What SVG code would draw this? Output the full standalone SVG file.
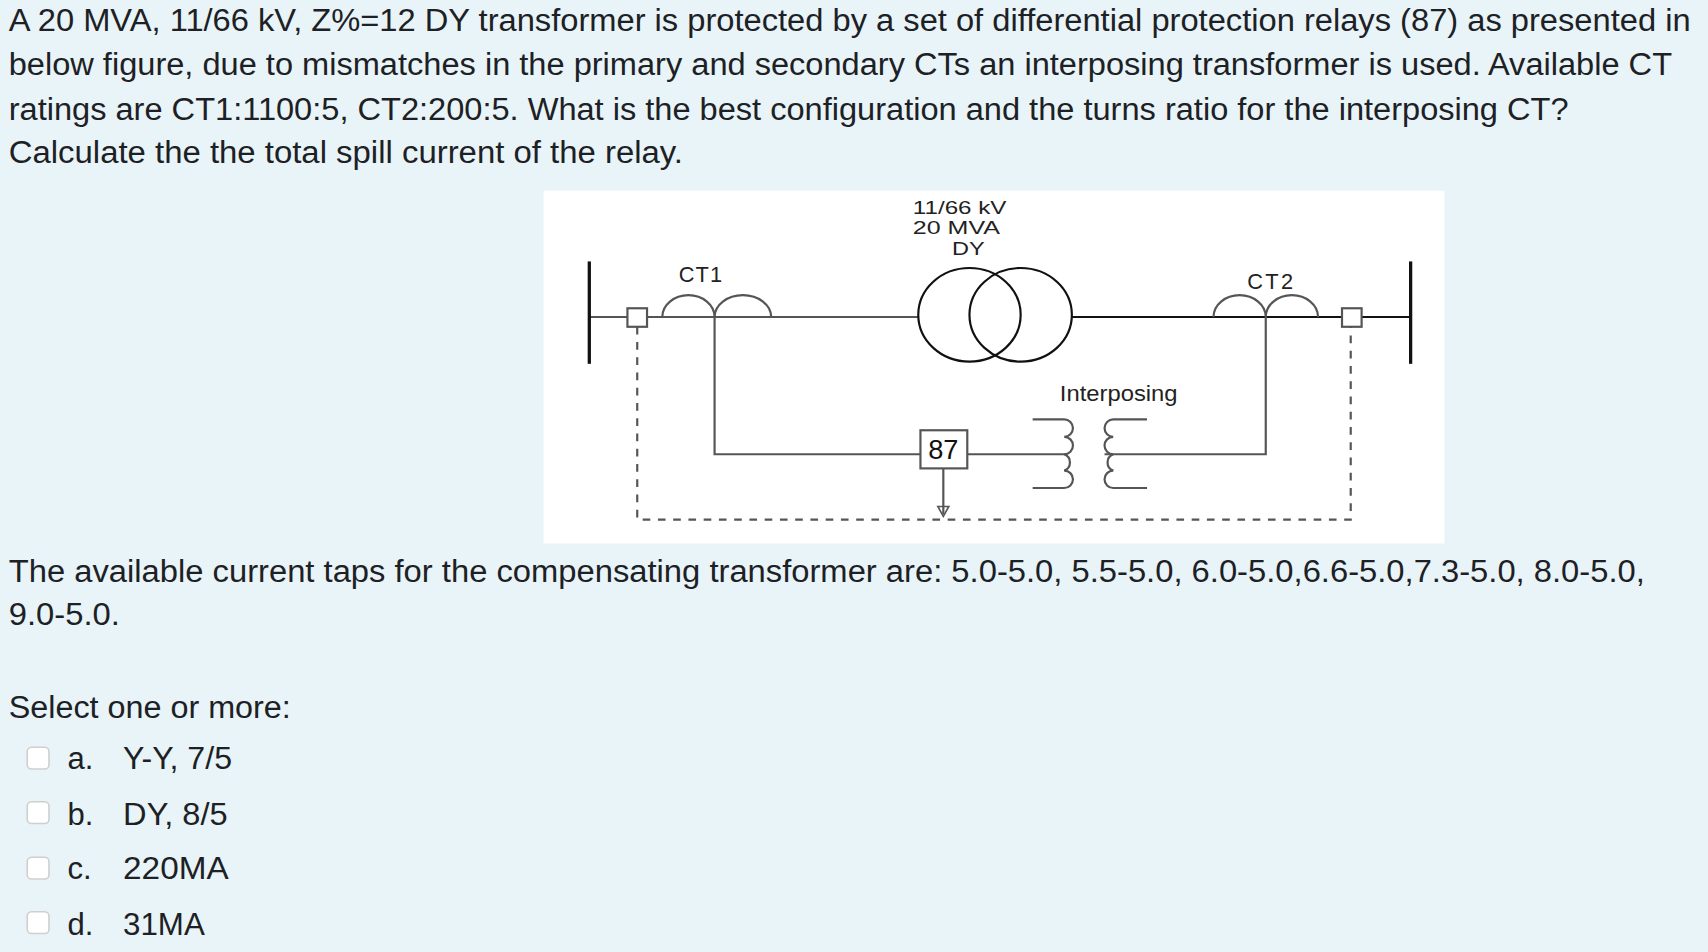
<svg xmlns="http://www.w3.org/2000/svg" width="1708" height="952" viewBox="0 0 1708 952">
<style>
.q{font-family:"Liberation Sans",Arial,sans-serif;font-size:28.5px;fill:#1d2125}
.d{font-family:"Liberation Sans",Arial,sans-serif;font-size:20px;fill:#222}
.t{font-family:"Liberation Sans",Arial,sans-serif;font-size:17.5px;fill:#222}
.w{fill:none;stroke:#555;stroke-width:2}
.k{fill:none;stroke:#111;stroke-width:2}
.cb{fill:#fff;stroke:#cfcfcf;stroke-width:1.5}
</style>
<rect width="1708" height="952" fill="#e8f4f7"/>
<g transform="scale(1.08929)">
<g id="question">
<text class="q" x="8" y="28" textLength="1544" lengthAdjust="spacingAndGlyphs">A 20 MVA, 11/66 kV, Z%=12 DY transformer is protected by a set of differential protection relays (87) as presented in</text>
<text class="q" x="8" y="69" textLength="1527" lengthAdjust="spacingAndGlyphs">below figure, due to mismatches in the primary and secondary CTs an interposing transformer is used. Available CT</text>
<text class="q" x="8" y="110" textLength="1432" lengthAdjust="spacingAndGlyphs">ratings are CT1:1100:5, CT2:200:5. What is the best configuration and the turns ratio for the interposing CT?</text>
<text class="q" x="8" y="150" textLength="619" lengthAdjust="spacingAndGlyphs">Calculate the the total spill current of the relay.</text>
</g>
<rect x="499" y="175" width="827" height="324" fill="#fff"/>
<g id="connectors">
<line x1="541" y1="291" x2="843" y2="291" class="w"/>
<line x1="984" y1="291" x2="1295" y2="291" class="k"/>
<polyline points="656,291 656,417 845,417" class="w"/>
<line x1="888" y1="417" x2="978" y2="417" class="w"/>
<polyline points="1014,417 1162,417 1162,291" class="w"/>
<line x1="866" y1="430" x2="866" y2="472" class="w"/>
<polygon points="861,465 871,465 866,474" fill="none" stroke="#555" stroke-width="1.5"/>
<polyline points="585,300 585,477 1240,477 1240,300" fill="none" stroke="#555" stroke-width="2" stroke-dasharray="7 7"/>
</g>
<g id="bus-left"><line x1="541" y1="240" x2="541" y2="334" stroke="#111" stroke-width="3"/></g>
<g id="bus-right"><line x1="1295" y1="240" x2="1295" y2="334" stroke="#111" stroke-width="3"/></g>
<g id="breaker-left"><rect x="576" y="283" width="18" height="17" fill="#fff" stroke="#555" stroke-width="2"/></g>
<g id="breaker-right"><rect x="1232" y="283" width="18" height="17" fill="#fff" stroke="#555" stroke-width="2"/></g>
<g id="ct1">
<path d="M608,291 A24,20 0 0 1 656,291 A26,20 0 0 1 708,291" class="w"/>
<text class="d" x="643" y="259" text-anchor="middle" textLength="40">CT1</text>
</g>
<g id="ct2">
<path d="M1114,291 A24,20 0 0 1 1162,291 A24,20 0 0 1 1210,291" class="w"/>
<text class="d" x="1166" y="265" text-anchor="middle" textLength="42">CT2</text>
</g>
<g id="transformer">
<ellipse cx="890" cy="289" rx="47" ry="43" class="k"/>
<ellipse cx="937" cy="289" rx="47" ry="43" class="k"/>
<text class="t" x="881" y="196" text-anchor="middle" textLength="86" lengthAdjust="spacingAndGlyphs">11/66 kV</text>
<text class="t" x="878" y="215" text-anchor="middle" textLength="80" lengthAdjust="spacingAndGlyphs">20 MVA</text>
<text class="t" x="889" y="234" text-anchor="middle" textLength="30" lengthAdjust="spacingAndGlyphs">DY</text>
</g>
<g id="relay87">
<rect x="845" y="395" width="43" height="35" fill="#fff" stroke="#555" stroke-width="2"/>
<text x="866" y="421" text-anchor="middle" font-family="Liberation Sans,Arial,sans-serif" font-size="25" fill="#111">87</text>
</g>
<g id="interposing">
<path d="M948,385 H977 A8,8 0 0 1 977,401 A8,8 0 0 1 977,417 A8,8 0 0 1 977,432 A8,8 0 0 1 977,448 H948" class="w"/>
<path d="M1053,385 H1022 A8,8 0 0 0 1022,401 A8,8 0 0 0 1022,417 A8,8 0 0 0 1022,432 A8,8 0 0 0 1022,448 H1053" class="w"/>
<text class="d" x="1027" y="368" text-anchor="middle" textLength="108" lengthAdjust="spacingAndGlyphs">Interposing</text>
</g>
<g id="taps">
<text class="q" x="8" y="534" textLength="1502" lengthAdjust="spacingAndGlyphs">The available current taps for the compensating transformer are: 5.0-5.0, 5.5-5.0, 6.0-5.0,6.6-5.0,7.3-5.0, 8.0-5.0,</text>
<text class="q" x="8" y="574" textLength="102" lengthAdjust="spacingAndGlyphs">9.0-5.0.</text>
<text class="q" x="8" y="659" textLength="259" lengthAdjust="spacingAndGlyphs">Select one or more:</text>
</g>
<g id="options">
<rect class="cb" x="25" y="686" width="20" height="20" rx="4"/>
<text class="q" x="62" y="706">a.</text><text class="q" x="113" y="706" textLength="100" lengthAdjust="spacingAndGlyphs">Y-Y, 7/5</text>
<rect class="cb" x="25" y="736" width="20" height="20" rx="4"/>
<text class="q" x="62" y="757">b.</text><text class="q" x="113" y="757" textLength="96" lengthAdjust="spacingAndGlyphs">DY, 8/5</text>
<rect class="cb" x="25" y="787" width="20" height="20" rx="4"/>
<text class="q" x="62" y="807">c.</text><text class="q" x="113" y="807" textLength="97" lengthAdjust="spacingAndGlyphs">220MA</text>
<rect class="cb" x="25" y="837" width="20" height="20" rx="4"/>
<text class="q" x="62" y="858">d.</text><text class="q" x="113" y="858" textLength="75" lengthAdjust="spacingAndGlyphs">31MA</text>
</g>
</g>
</svg>
